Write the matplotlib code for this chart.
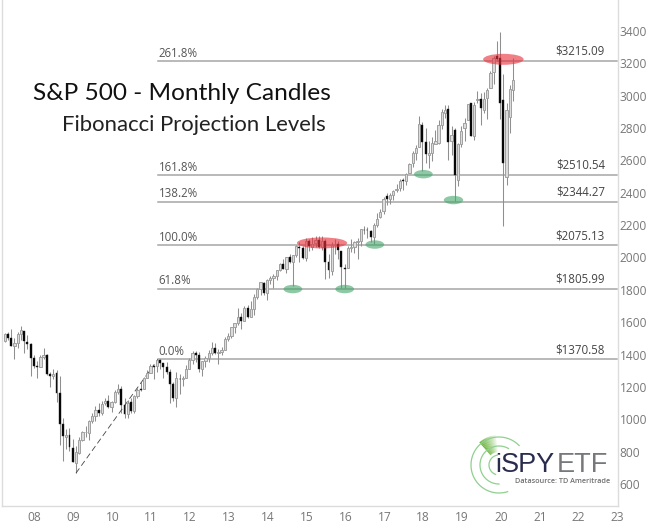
import matplotlib
matplotlib.use("Agg")
import matplotlib.pyplot as plt
from matplotlib.patches import Ellipse, Polygon
import numpy as np

# monthly candles, May 2007 to Jun 2020
opens = [1482,1530,1504,1455,1474,1527,1545,1479,
         1468,1378,1330,1326,1386,1400,1282,1269,1288,1164,968,888,
         903,823,730,793,872,919,917,987,1020,1055,1036,1098,
         1116,1074,1106,1171,1188,1087,1032,1107,1050,1143,1185,1186,
         1257,1289,1328,1330,1365,1345,1322,1293,1219,1132,1252,1247,
         1258,1312,1366,1408,1398,1310,1362,1379,1407,1441,1412,1416,
         1426,1498,1515,1569,1597,1631,1606,1686,1633,1682,1757,1806,
         1845,1782,1858,1873,1884,1924,1961,1929,2004,1972,2018,2065,
         2058,1996,2105,2067,2087,2108,2067,2104,1970,1919,2080,2082,
         2039,1937,1937,2057,2067,2093,2099,2173,2171,2164,2129,2201,
         2252,2285,2381,2363,2388,2415,2431,2477,2475,2522,2583,2645,
         2684,2816,2715,2633,2643,2704,2705,2821,2896,2919,2717,2790,
         2476,2703,2798,2848,2953,2751,2971,2981,2910,2983,3050,3144,
         3244,3235,2974,2499,2869,3038]
highs = [1535,1540,1555,1503,1539,1576,1545,1523,
         1472,1396,1359,1397,1440,1405,1293,1313,1303,1265,1007,940,
         944,876,832,888,930,956,997,1040,1080,1102,1113,1130,
         1150,1112,1181,1220,1206,1132,1120,1129,1149,1196,1228,1262,
         1303,1344,1333,1364,1371,1345,1357,1308,1230,1293,1278,1270,
         1333,1378,1420,1422,1415,1363,1392,1427,1475,1470,1434,1448,
         1510,1531,1570,1597,1687,1654,1698,1709,1730,1776,1814,1849,
         1851,1867,1884,1897,1924,1968,1991,2005,2019,2018,2076,2093,
         2072,2120,2117,2126,2135,2130,2133,2113,2021,2094,2116,2104,
         2039,1962,2073,2112,2103,2120,2178,2194,2187,2169,2214,2278,
         2301,2372,2401,2399,2418,2454,2484,2491,2520,2582,2657,2695,
         2873,2835,2801,2718,2742,2791,2848,2916,2941,2940,2815,2800,
         2708,2813,2860,2949,2954,2964,3028,3014,3022,3050,3154,3248,
         3337,3394,3136,2954,3068,3233]
lows = [1476,1490,1453,1370,1439,1489,1407,1435,
        1270,1316,1257,1325,1373,1272,1200,1248,1106,840,741,815,
        805,735,667,783,866,888,870,978,992,1020,1029,1086,
        1071,1045,1101,1157,1040,1011,1010,1040,1040,1132,1173,1186,
        1257,1289,1249,1295,1311,1258,1282,1101,1114,1075,1159,1203,
        1258,1312,1340,1357,1292,1267,1325,1354,1397,1403,1343,1398,
        1426,1485,1501,1536,1581,1560,1605,1627,1633,1646,1746,1767,
        1770,1737,1834,1814,1862,1915,1931,1904,1964,1821,2001,1972,
        1988,1980,2040,2048,2067,2057,2044,1867,1872,1894,2019,1993,
        1812,1810,1937,2033,2026,1992,2074,2147,2120,2098,2084,2187,
        2245,2271,2322,2329,2353,2405,2408,2417,2446,2520,2557,2605,
        2683,2533,2585,2553,2594,2699,2699,2796,2864,2604,2631,2347,
        2444,2681,2722,2848,2751,2729,2953,2822,2892,2856,3050,3070,
        3214,2855,2192,2447,2767,2966]
closes = [1530,1503,1455,1474,1527,1549,1481,1468,
          1379,1331,1323,1386,1400,1280,1267,1283,1165,969,896,903,
          826,735,798,873,919,919,987,1021,1057,1036,1096,1115,
          1074,1104,1169,1187,1089,1031,1102,1049,1141,1183,1181,1258,
          1286,1327,1326,1364,1345,1321,1292,1219,1131,1253,1247,1258,
          1312,1366,1408,1398,1310,1362,1379,1407,1441,1412,1416,1426,
          1498,1515,1569,1597,1631,1606,1686,1633,1682,1757,1806,1848,
          1783,1859,1872,1884,1924,1960,1931,2003,1972,2018,2068,2059,
          1995,2105,2068,2086,2107,2063,2104,1972,1920,2079,2080,2044,
          1940,1932,2060,2065,2097,2099,2174,2171,2168,2126,2199,2239,
          2279,2364,2363,2384,2412,2423,2470,2472,2519,2575,2648,2674,
          2824,2714,2641,2648,2705,2718,2816,2902,2914,2711,2760,2507,
          2704,2784,2834,2946,2752,2942,2980,2926,2977,3038,3141,3231,
          3226,2954,2585,2912,3044,3100]

fib_pcts = ["261.8%", "161.8%", "138.2%", "100.0%", "61.8%", "0.0%"]
fib_prices = [3215.09, 2510.54, 2344.27, 2075.13, 1805.99, 1370.58]
fib_price_labels = ["$3215.09", "$2510.54", "$2344.27", "$2075.13", "$1805.99", "$1370.58"]

year_labels = ["08","09","10","11","12","13","14","15","16","17","18","19","20","21","22","23"]
price_ticks = [600,800,1000,1200,1400,1600,1800,2000,2200,2400,2600,2800,3000,3200,3400]

# (month index, price, width in months, height in price)
red_spots = [(98, 2090, 15.5, 68), (154, 3225, 12.5, 68)]
green_spots = [(89, 1805, 5.8, 52), (105, 1805, 5.8, 52), (114.3, 2080, 5.8, 52),
               (129.3, 2515, 5.8, 52), (138.6, 2355, 6.0, 52)]

W, H = 650, 524
X0, X1, Y0, Y1 = 1.5, 617.5, 506.0, 0.0
PX_MONTH = 3.24
PX_PRICE = (484 - 31) / 2800.0
LEVEL_START = 47.3  # month index where the fib lines begin

fig = plt.figure(figsize=(W / 100, H / 100), dpi=100, facecolor="white")
ax = fig.add_axes([X0 / W, 1 - Y0 / H, (X1 - X0) / W, (Y0 - Y1) / H])
ax.set_xlim(22 + (X0 - 76) / PX_MONTH, 22 + (X1 - 76) / PX_MONTH)
ax.set_ylim(600 - (Y0 - 484) / PX_PRICE, 600 + (484 - Y1) / PX_PRICE)

# fib levels sit under the candles
for pct, price, lab in zip(fib_pcts, fib_prices, fib_price_labels):
    ax.plot([LEVEL_START, ax.get_xlim()[1]], [price, price], color="#a6a6a6", lw=1.1, zorder=1)
    ax.annotate(pct, (LEVEL_START, price), xytext=(0.5, 1.0), textcoords="offset points",
                fontsize=8.3, color="#555555", family="Open Sans", va="bottom", ha="left")
    ax.annotate(lab, (1, price), xycoords=ax.get_yaxis_transform(), xytext=(-9, 2.2),
                textcoords="offset points", fontsize=8.3, color="#444444",
                family="Open Sans", va="bottom", ha="right")

months = np.arange(len(opens))
o = np.array(opens, float)
c = np.array(closes, float)
up = c >= o
ax.vlines(months, lows, highs, color="#8f8f8f", lw=0.75, zorder=2)
ax.bar(months[up], (c - o)[up], bottom=o[up], width=0.72, facecolor="#dcdcdc",
       edgecolor="#a0a0a0", lw=0.7, zorder=3)
ax.bar(months[~up], (c - o)[~up], bottom=o[~up], width=0.6, facecolor="black",
       edgecolor="#222222", lw=0.3, zorder=3)

# dashed projection leg from the 2009 low
low_idx = int(np.argmin(lows))
ax.plot([low_idx, LEVEL_START], [lows[low_idx], fib_prices[-1]], color="#444444",
        lw=0.6, ls=(0, (7, 4)), zorder=2)

for mx, py, w, h in red_spots:
    ax.add_patch(Ellipse((mx, py), w, h, facecolor="#e8303c", alpha=0.62, lw=0, zorder=4))
for mx, py, w, h in green_spots:
    ax.add_patch(Ellipse((mx, py), w, h, facecolor="#45a86c", alpha=0.62, lw=0, zorder=4))

for side in ["top"]:
    ax.spines[side].set_visible(False)
for side in ["left", "right", "bottom"]:
    ax.spines[side].set_color("#dcdcdc")
    ax.spines[side].set_linewidth(1.0)

ax.yaxis.tick_right()
ax.set_yticks(price_ticks)
ax.set_yticklabels([str(v) for v in price_ticks])
tick_months = [8 + 12 * i + 1.25 for i in range(len(year_labels))]
ax.set_xticks(tick_months)
ax.set_xticklabels(year_labels)
ax.tick_params(axis="both", length=0, labelcolor="#777777", labelsize=8.6)
ax.tick_params(axis="y", pad=1.5)
ax.tick_params(axis="x", pad=3.5)
for t in ax.get_xticklabels() + ax.get_yticklabels():
    t.set_family("Open Sans")

# pixel overlay for title and logo
ov = fig.add_axes([0, 0, 1, 1], facecolor="none")
ov.set_xlim(0, W)
ov.set_ylim(H, 0)
ov.axis("off")
ov.text(33, 93, "S&P 500 - Monthly Candles", fontsize=17.6, family="Lato", color="#111111", va="center", ha="left")
ov.text(62, 125, "Fibonacci Projection Levels", fontsize=15.9, family="Lato", color="#222222", va="center", ha="left")

# logo rings and radar sweep
cx, cy = 499, 465
for r, a1, a2 in [(28, 44, 288), (19, 60, 270), (10, 100, 250)]:
    a = np.radians(np.linspace(a1, a2, 80))
    ov.plot(cx + r * np.cos(a), cy - r * np.sin(a), color="#8fd08f", lw=0.9)
sweep = np.linspace(131, 96, 15)
for i in range(len(sweep) - 1):
    a = np.radians([sweep[i], sweep[i + 1], sweep[i + 1], sweep[i]])
    rr = np.array([30, 30, 13, 13])
    ov.add_patch(Polygon(np.c_[cx + rr * np.cos(a), cy - rr * np.sin(a)],
                         facecolor="#5fae2e", alpha=0.95 - i * 0.065, lw=0))
ov.text(495.5, 464.5, "i", fontsize=19, family="Liberation Sans", color="#2a2c4e", va="center", ha="left")
ov.text(501, 464.5, "SPY", fontsize=19.5, family="Liberation Sans", color="#2a2c4e", va="center", ha="left")
ov.text(557, 464.5, "ETF", fontsize=19.5, family="Liberation Sans", color="#77787c", va="center", ha="left")
ov.text(515, 481.5, "Datasource: TD Ameritrade", fontsize=5.2, family="Open Sans", weight="semibold",
        color="#6f6f6f", va="center", ha="left")

fig.savefig("out.png", dpi=100)
